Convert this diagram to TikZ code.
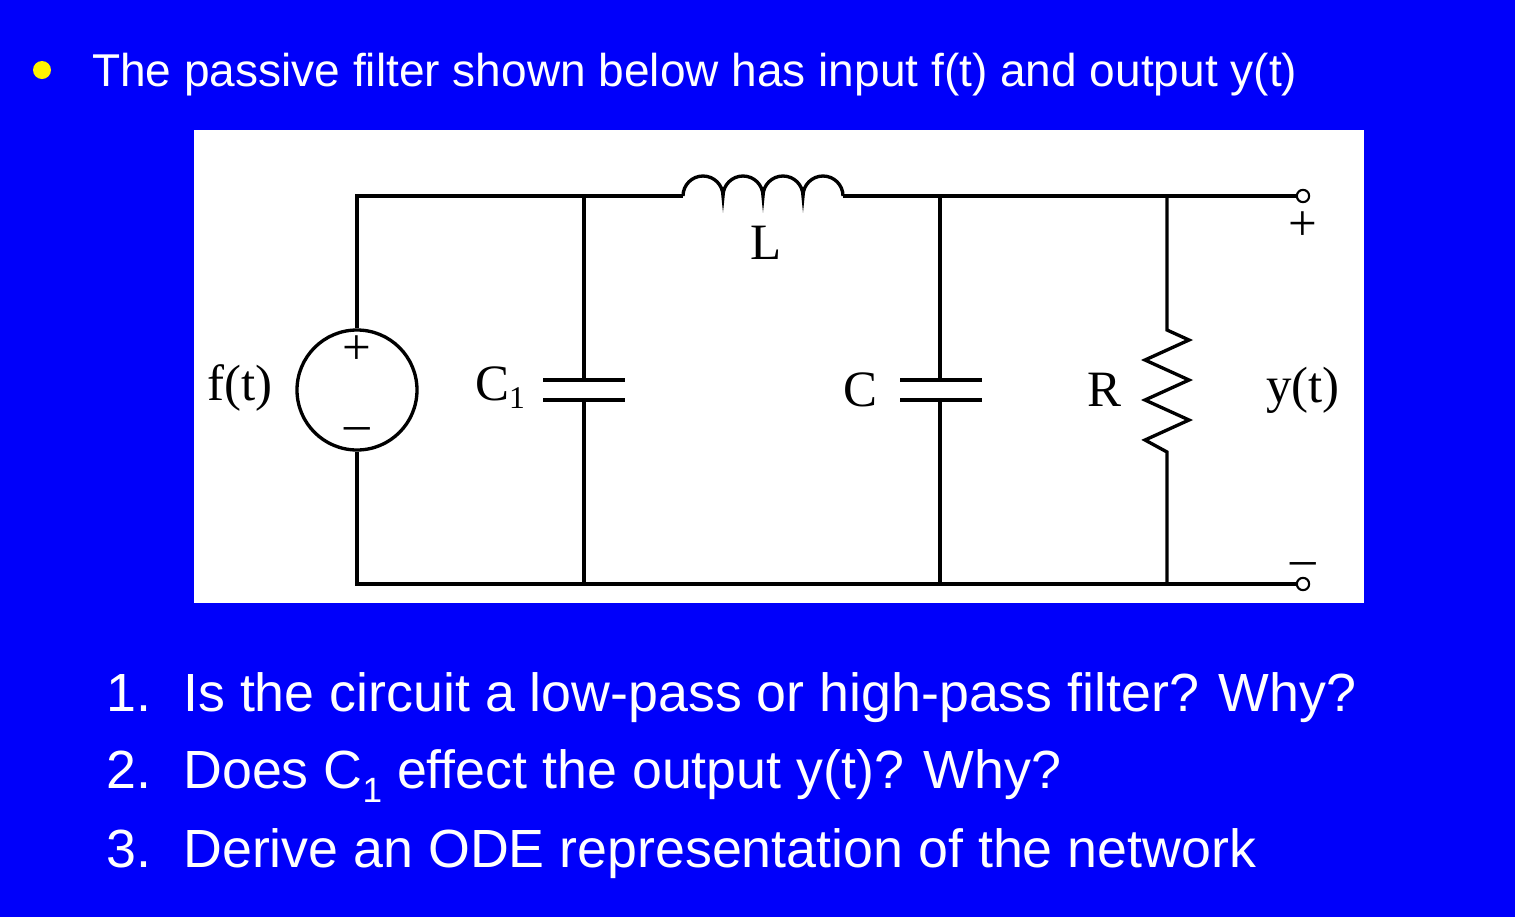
\documentclass[tikz,border=0pt]{standalone}
\usepackage{fontspec}
\setmainfont{Liberation Sans}
\newfontfamily\tms{Liberation Serif}
\definecolor{bg}{RGB}{0,0,250}
\begin{document}
\begin{tikzpicture}[x=0.02cm,y=-0.02cm,
  w/.style={line width=1.9pt},
  lab/.style={font=\tms\fontsize{29}{30}\selectfont},
  txt/.style={white,anchor=west,font=\fontsize{30.6}{36}\selectfont},
  term/.style={circle,draw,line width=1.2pt,fill=white,inner sep=0pt,minimum size=7pt}]
\fill[bg] (0,0) rectangle (1515,917);
\useasboundingbox (0,0) rectangle (1515,917);
\fill[white] (194,130) rectangle (1364,603);
\fill[yellow] (42,70) circle (9);
\node[white,anchor=west,font=\fontsize{26.2}{30}\selectfont] (title) at (86,75) {The passive filter shown below has input f(t) and output y(t)};
% nodes
\node[term] (tp) at (1303,196) {};
\node[term] (tm) at (1303,584) {};
\node[circle,draw,w,minimum size=120*0.02cm,inner sep=0pt] (src) at (357,390) {};
\coordinate (a) at (357,196); \coordinate (b) at (357,584);
\coordinate (l1) at (683,196); \coordinate (l2) at (843,196);
% wires
\draw[w] (src.north) -- (a) -- (l1);
\draw[w] (l2) -- (tp);
\draw[w] (src.south) -- (b) -- (tm);
\draw[w] (l1) arc (180:360:20) arc (180:360:20) arc (180:360:20) arc (180:360:20);
% C1
\draw[w] (584,196) -- (584,380) (584,400) -- (584,584);
\draw[w] (543,380) -- (625,380) (543,400) -- (625,400);
% C
\draw[w] (940,196) -- (940,380) (940,400) -- (940,584);
\draw[w] (900,380) -- (982,380) (900,400) -- (982,400);
% R
\draw[w] (1167,196) -- (1167,330) -- (1189,340) -- (1145,360) -- (1189,380) -- (1145,400) -- (1189,420) -- (1145,440) -- (1167,452) -- (1167,584);
% labels
\node[lab] (ft) at (240,388) {f(t)};
\node[lab] (c1) at (500,388) {C\raisebox{-0.35ex}{\fontsize{18}{18}\selectfont 1}};
\node[lab] (L) at (766,243) {L};
\node[lab] (Cl) at (860,390) {C};
\node[lab] (Rl) at (1104,390) {R};
\node[lab] (yt) at (1303,390) {y(t)};
\node[lab] (pl) at (1303,226) {+};
\node[lab] (mi) at (1303,562) {\_};
\node[lab] (sp) at (357,350) {+};
\node[lab] (sm) at (357,427) {\_};
% questions
\node[txt] (q1) at (100,698) {1.\hspace{0.6em}Is the circuit a low-pass or high-pass filter? Why?};
\node[txt] (q2) at (100,776) {2.\hspace{0.6em}Does C\raisebox{-0.5ex}{\fontsize{20}{20}\selectfont 1} effect the output y(t)? Why?};
\node[txt] (q3) at (100,854) {3.\hspace{0.6em}Derive an ODE representation of the network};
\end{tikzpicture}
\end{document}
